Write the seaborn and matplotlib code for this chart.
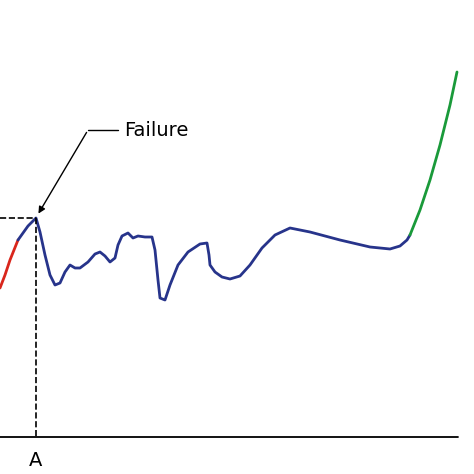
import matplotlib
matplotlib.use("Agg")
import matplotlib.pyplot as plt
import seaborn as sns
import pandas as pd

# schematic curve in pixel units (y grows downward)
red_x = [0, 5, 10, 18]
red_y = [288, 275, 260, 240]

blue_x = [18, 28, 36, 40, 45, 50, 55, 60, 65, 70, 75, 80, 88, 95, 100, 105, 110,
          115, 118, 122, 128, 133, 138, 145, 152, 155, 158, 160, 165, 170, 178,
          188, 200, 207, 209, 210, 215, 222, 230, 240, 250, 262, 275, 290, 310,
          340, 370, 390, 400, 407, 410]
blue_y = [240, 226, 218, 232, 255, 275, 285, 283, 272, 265, 268, 268, 262, 254,
          252, 256, 262, 258, 245, 236, 233, 238, 236, 237, 237, 250, 280, 298,
          300, 285, 265, 252, 244, 243, 255, 265, 272, 277, 279, 276, 265, 248,
          235, 228, 232, 240, 247, 249, 246, 240, 235]

green_x = [410, 420, 430, 440, 450, 457]
green_y = [235, 210, 180, 145, 105, 72]

fail_x, fail_y = 36, 218
axis_y = 437

sns.set_style("white")
fig = plt.figure(figsize=(4.74, 4.74), dpi=100)
ax = fig.add_axes([0, 0, 1, 1])

for xs, ys, c in [(red_x, red_y, "#d9261c"), (blue_x, blue_y, "#27348b"),
                  (green_x, green_y, "#1a9a3a")]:
    sns.lineplot(data=pd.DataFrame({"x": xs, "y": ys}), x="x", y="y", sort=False,
                 color=c, linewidth=2, ax=ax)

ax.plot([0, fail_x], [fail_y, fail_y], "k--", lw=1.2)
ax.plot([fail_x, fail_x], [fail_y, axis_y], "k--", lw=1.2)
ax.plot([0, 458], [axis_y, axis_y], "k-", lw=1.3)

ax.plot([118, 88], [130, 130], "k-", lw=1)
ax.annotate("", xy=(fail_x + 1, fail_y - 2), xytext=(88, 130),
            arrowprops=dict(arrowstyle="-|>", color="k", lw=1))
ax.text(124, 130, "Failure", fontsize=14, va="center", ha="left", color="black")
ax.text(fail_x, 460, "A", fontsize=14, va="center", ha="center", color="black")

ax.set_xlim(0, 474)
ax.set_ylim(474, 0)
ax.axis("off")
fig.savefig("out.png", dpi=100)
